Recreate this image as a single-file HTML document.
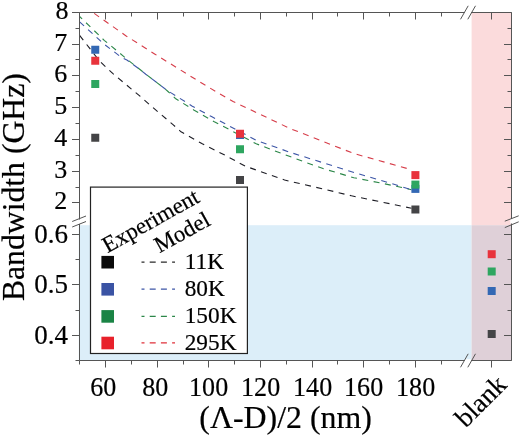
<!DOCTYPE html><html><head><meta charset="utf-8"><title>Bandwidth</title>
<style>html,body{margin:0;padding:0;background:#fff}svg{display:block}text{font-family:"Liberation Serif","DejaVu Serif",serif;fill:#000;stroke:#000;stroke-width:0.2px}</style></head><body>
<svg width="520" height="436" viewBox="0 0 520 436">
<rect width="520" height="436" fill="#fff"/>
<rect x="471.6" y="12.5" width="39.9" height="212.7" fill="#fbdbdc"/>
<rect x="78.8" y="225.2" width="392.8" height="135.3" fill="#dceef9"/>
<rect x="471.6" y="225.2" width="39.9" height="135.3" fill="#dfd0d8"/>
<path d="M94.2,13.4 L125.8,35.7 L155.0,54.2 L197.5,80.5 L217.0,92.3 L233.1,101.5 L290.0,128.5 L353.8,153.5 L411.5,169.7" fill="none" stroke="#d63c48" stroke-width="1.1" stroke-dasharray="6 5.5" stroke-dashoffset="0.00"/>
<path d="M79.6,16.5 L104.2,40.3 L124.2,56.8 L127.3,59.6 L140.0,69.5 L145.8,74.2 L164.6,88.5 L168.0,91.5 L175.4,98.5 L193.8,110.0 L213.8,121.5 L233.0,131.5 L256.2,143.8 L290.0,156.6 L323.0,168.6 L353.8,177.7 L380.8,183.0 L400.8,187.3 L411.5,189.7" fill="none" stroke="#2c8749" stroke-width="1.1" stroke-dasharray="6 5.5" stroke-dashoffset="2.51"/>
<path d="M79.6,21.8 L104.2,44.2 L121.2,57.2 L127.3,60.3 L140.0,69.5 L145.8,74.2 L164.6,88.5 L171.5,93.1 L192.3,106.2 L211.5,116.6 L235.4,129.2 L256.2,140.3 L290.0,152.3 L350.0,171.3 L388.5,182.6 L411.5,189.7" fill="none" stroke="#3c55a6" stroke-width="1.1" stroke-dasharray="6 5.5" stroke-dashoffset="0.00"/>
<path d="M79.6,35.4 L99.6,61.1 L112.7,73.4 L140.0,96.2 L153.1,107.7 L173.0,124.6 L181.0,131.8 L202.3,143.8 L225.4,155.4 L245.4,166.2 L284.6,180.0 L333.8,191.5 L351.5,195.8 L411.5,208.2" fill="none" stroke="#1c1c24" stroke-width="1.1" stroke-dasharray="6 5.5" stroke-dashoffset="0.00"/>
<g stroke="#555" stroke-width="1" fill="none">
<path d="M79.5,12.5 H511.5 V360.5 H79.5 Z"/>
</g>
<g stroke="#fff" stroke-width="2.5">
<path d="M464.8,12.5 H471 M464.8,360.5 H471"/>
<path d="M79.5,219.5 V224 M511.5,219 V223.5"/>
</g>
<g stroke="#555" stroke-width="1" fill="none">
<path d="M105.5,360.5 v7 M105.5,12.5 v7"/>
<path d="M157.5,360.5 v7 M157.5,12.5 v7"/>
<path d="M208.5,360.5 v7 M208.5,12.5 v7"/>
<path d="M260.5,360.5 v7 M260.5,12.5 v7"/>
<path d="M312.5,360.5 v7 M312.5,12.5 v7"/>
<path d="M363.5,360.5 v7 M363.5,12.5 v7"/>
<path d="M415.5,360.5 v7 M415.5,12.5 v7"/>
<path d="M79.5,360.5 v4 M79.5,12.5 v4"/>
<path d="M131.5,360.5 v4 M131.5,12.5 v4"/>
<path d="M183.5,360.5 v4 M183.5,12.5 v4"/>
<path d="M234.5,360.5 v4 M234.5,12.5 v4"/>
<path d="M286.5,360.5 v4 M286.5,12.5 v4"/>
<path d="M337.5,360.5 v4 M337.5,12.5 v4"/>
<path d="M389.5,360.5 v4 M389.5,12.5 v4"/>
<path d="M441.5,360.5 v4 M441.5,12.5 v4"/>
<path d="M491.5,360.5 v7 M491.5,12.5 v7"/>
<path d="M79.5,202.5 h-7.5 M511.5,202.5 h-7.5"/>
<path d="M79.5,171.5 h-7.5 M511.5,171.5 h-7.5"/>
<path d="M79.5,139.5 h-7.5 M511.5,139.5 h-7.5"/>
<path d="M79.5,107.5 h-7.5 M511.5,107.5 h-7.5"/>
<path d="M79.5,75.5 h-7.5 M511.5,75.5 h-7.5"/>
<path d="M79.5,44.5 h-7.5 M511.5,44.5 h-7.5"/>
<path d="M79.5,12.5 h-7.5 M511.5,12.5 h-7.5"/>
<path d="M79.5,187.5 h-4 M511.5,187.5 h-4"/>
<path d="M79.5,155.5 h-4 M511.5,155.5 h-4"/>
<path d="M79.5,123.5 h-4 M511.5,123.5 h-4"/>
<path d="M79.5,91.5 h-4 M511.5,91.5 h-4"/>
<path d="M79.5,59.5 h-4 M511.5,59.5 h-4"/>
<path d="M79.5,28.5 h-4 M511.5,28.5 h-4"/>
<path d="M79.5,234.5 h-7.5 M511.5,234.5 h-7.5"/>
<path d="M79.5,284.5 h-7.5 M511.5,284.5 h-7.5"/>
<path d="M79.5,335.5 h-7.5 M511.5,335.5 h-7.5"/>
<path d="M79.5,259.5 h-4 M511.5,259.5 h-4"/>
<path d="M79.5,310.5 h-4 M511.5,310.5 h-4"/>
<path d="M79.5,360.5 h-4 M511.5,360.5 h-4"/>
<path d="M460.5,19.3 L468.2,5.8 M467.8,19.3 L475.5,5.8"/>
<path d="M460.5,367.3 L468.2,353.8 M467.8,367.3 L475.5,353.8"/>
<path d="M72.2,221.5 L86,216 M72.2,227 L86,221.5"/>
<path d="M504.8,221.2 L518.7,215.8 M504.8,227.6 L518.7,221.8"/>
</g>
<rect x="91.25" y="133.75" width="8" height="8" fill="#444446"/>
<rect x="91.25" y="80.00" width="8" height="8" fill="#2ea660"/>
<rect x="91.25" y="56.75" width="8" height="8" fill="#e8333c"/>
<rect x="91.25" y="45.75" width="8" height="8" fill="#3368b4"/>
<rect x="236.00" y="176.00" width="8" height="8" fill="#444446"/>
<rect x="236.00" y="131.00" width="8" height="8" fill="#3368b4"/>
<rect x="236.00" y="145.25" width="8" height="8" fill="#2ea660"/>
<rect x="236.00" y="129.75" width="8" height="8" fill="#e8333c"/>
<rect x="411.40" y="205.50" width="8" height="8" fill="#444446"/>
<rect x="411.40" y="184.90" width="8" height="8" fill="#3368b4"/>
<rect x="411.40" y="180.60" width="8" height="8" fill="#2ea660"/>
<rect x="411.40" y="171.10" width="8" height="8" fill="#e8333c"/>
<rect x="487.70" y="330.00" width="8" height="8" fill="#444446"/>
<rect x="487.70" y="287.00" width="8" height="8" fill="#3368b4"/>
<rect x="487.70" y="267.50" width="8" height="8" fill="#2ea660"/>
<rect x="487.70" y="250.20" width="8" height="8" fill="#e8333c"/>
<rect x="90.5" y="187.1" width="156.9" height="166.4" fill="#fff" stroke="#222" stroke-width="1.2"/>
<rect x="101.40" y="255.90" width="12.6" height="12.6" fill="#0a0a0a"/>
<path d="M141.5,262.1 H175" stroke="#2a2a2a" stroke-width="1.2" stroke-dasharray="6 5.2" stroke-dashoffset="3" fill="none"/>
<text transform="translate(184.7,269.1) scale(0.972,1)" font-size="24">11K</text>
<rect x="101.40" y="283.00" width="12.6" height="12.6" fill="#3a53a4"/>
<path d="M141.5,289.2 H175" stroke="#3c55a6" stroke-width="1.2" stroke-dasharray="6 5.2" stroke-dashoffset="3" fill="none"/>
<text transform="translate(184.7,296.2) scale(0.972,1)" font-size="24">80K</text>
<rect x="101.40" y="310.10" width="12.6" height="12.6" fill="#1a8445"/>
<path d="M141.5,316.3 H175" stroke="#2c8749" stroke-width="1.2" stroke-dasharray="6 5.2" stroke-dashoffset="3" fill="none"/>
<text transform="translate(184.7,323.3) scale(0.972,1)" font-size="24">150K</text>
<rect x="101.40" y="336.70" width="12.6" height="12.6" fill="#e8212b"/>
<path d="M141.5,342.9 H175" stroke="#e0303a" stroke-width="1.2" stroke-dasharray="6 5.2" stroke-dashoffset="3" fill="none"/>
<text transform="translate(184.7,349.9) scale(0.972,1)" font-size="24">295K</text>
<text transform="translate(107.5,253.2) rotate(-29)" font-size="22.9">Experiment</text>
<text transform="translate(159.5,253.3) rotate(-29)" font-size="22.9">Model</text>
<text x="67.3" y="209.3" font-size="26" text-anchor="end">2</text>
<text x="67.3" y="178.3" font-size="26" text-anchor="end">3</text>
<text x="67.3" y="146.3" font-size="26" text-anchor="end">4</text>
<text x="67.3" y="114.3" font-size="26" text-anchor="end">5</text>
<text x="67.3" y="82.3" font-size="26" text-anchor="end">6</text>
<text x="67.3" y="51.3" font-size="26" text-anchor="end">7</text>
<text x="68.6" y="18.8" font-size="26" text-anchor="end">8</text>
<text x="68" y="243.3" font-size="27" text-anchor="end">0.6</text>
<text x="68" y="293.3" font-size="27" text-anchor="end">0.5</text>
<text x="68" y="344.3" font-size="27" text-anchor="end">0.4</text>
<text transform="translate(103.3,395.7) scale(0.925,1)" font-size="28.2" text-anchor="middle">60</text>
<text transform="translate(155.3,395.7) scale(0.925,1)" font-size="28.2" text-anchor="middle">80</text>
<text transform="translate(208.6,395.7) scale(0.925,1)" font-size="28.2" text-anchor="middle">100</text>
<text transform="translate(260.6,395.7) scale(0.925,1)" font-size="28.2" text-anchor="middle">120</text>
<text transform="translate(312.6,395.7) scale(0.925,1)" font-size="28.2" text-anchor="middle">140</text>
<text transform="translate(363.6,395.7) scale(0.925,1)" font-size="28.2" text-anchor="middle">160</text>
<text transform="translate(415.6,395.7) scale(0.925,1)" font-size="28.2" text-anchor="middle">180</text>
<text transform="translate(23.8,301.1) rotate(-90)" font-size="31.7">Bandwidth (GHz)</text>
<text transform="translate(199.3,427.7) scale(1.021,1)" font-size="31.2">(Λ-D)/2 (nm)</text>
<text transform="translate(465.8,428.5) rotate(-45)" font-size="26.9">blank</text>
</svg></body></html>
